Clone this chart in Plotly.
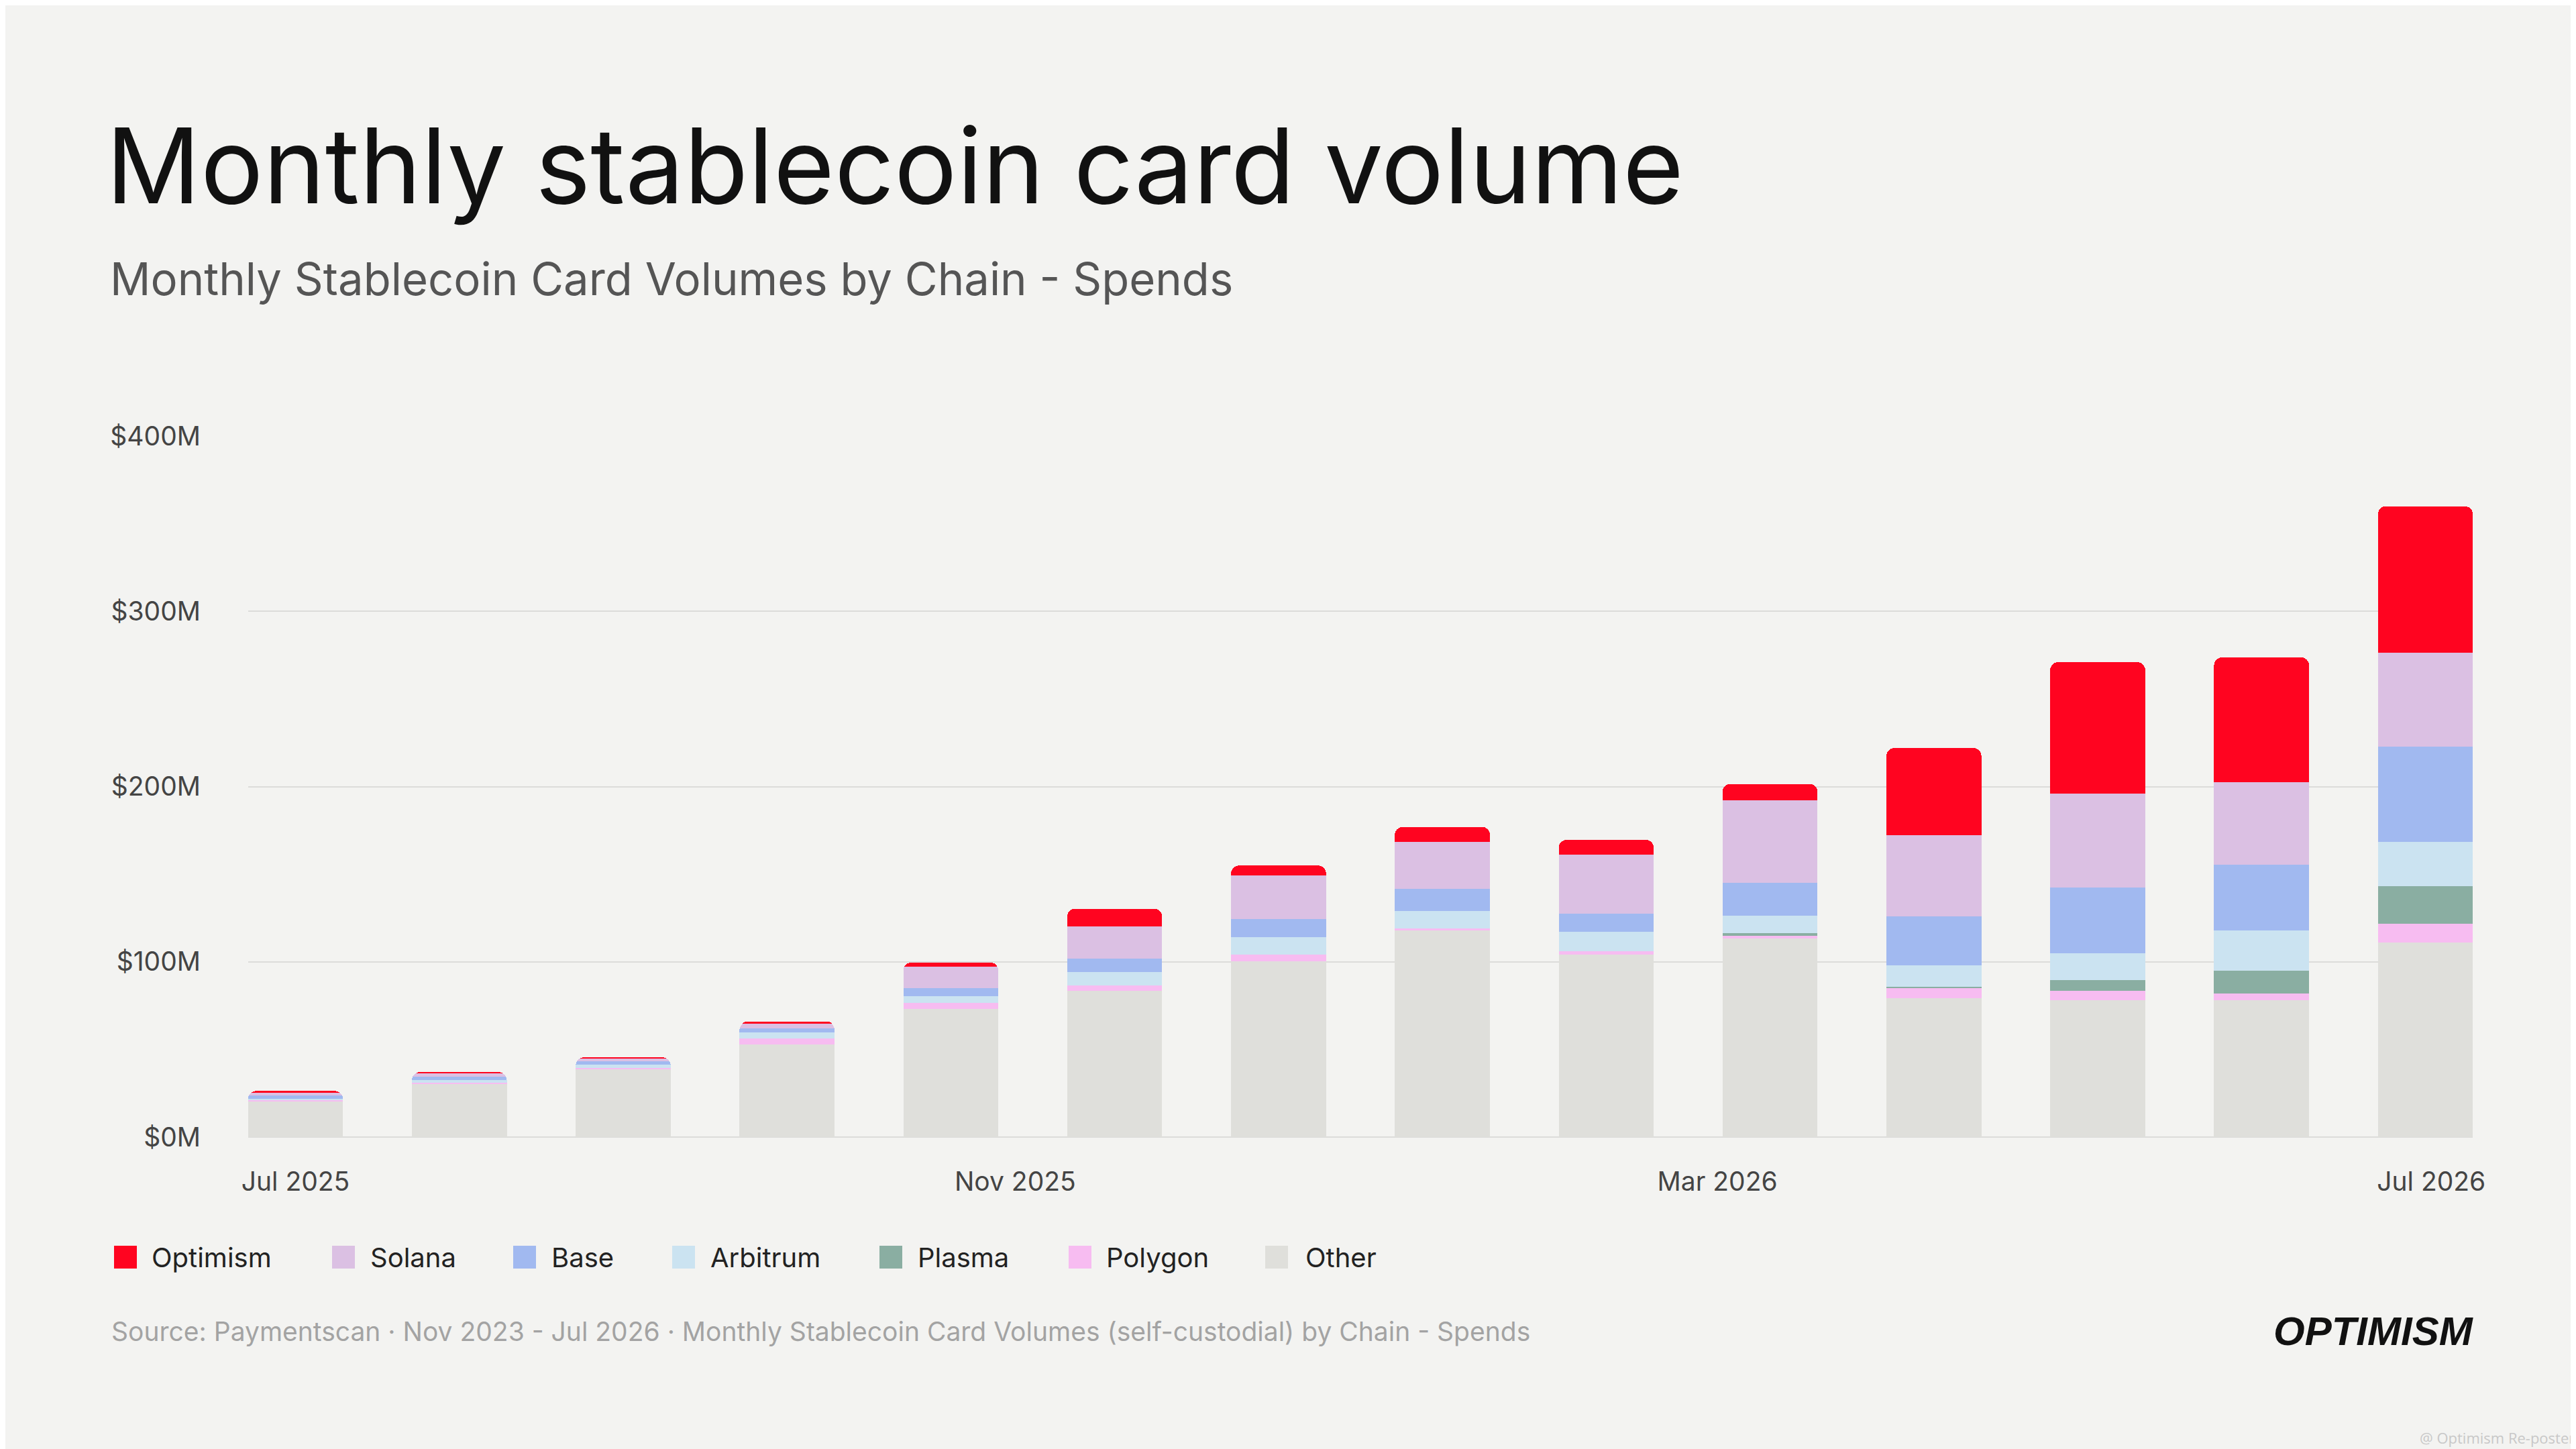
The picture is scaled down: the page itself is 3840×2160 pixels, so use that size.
import plotly.graph_objects as go

dates = ["2025-07-01", "2025-07-29", "2025-08-26", "2025-09-23", "2025-10-21", "2025-11-18", "2025-12-16",
         "2026-01-13", "2026-02-10", "2026-03-10", "2026-04-07", "2026-05-05", "2026-06-02", "2026-06-30"]
other    = [20.1, 30.2, 38.5, 53.0, 73.0, 83.6, 100.3, 118.0, 104.0, 113.4, 79.1, 78.2, 78.2, 111.0]
polygon  = [0.8, 0.8, 0.9, 3.1, 3.7, 3.0, 3.7, 1.0, 2.0, 1.5, 6.0, 5.4, 3.8, 10.7]
plasma   = [0, 0, 0, 0, 0, 0, 0, 0, 0, 1.5, 0.8, 6.1, 13.0, 21.6]
arbitrum = [0.8, 1.5, 2.1, 3.8, 3.8, 7.7, 10.0, 10.0, 11.0, 10.0, 12.2, 15.3, 23.0, 25.3]
base     = [2.2, 2.1, 1.6, 2.3, 4.6, 7.6, 10.3, 12.5, 10.5, 18.6, 27.8, 37.5, 37.6, 54.3]
solana   = [1.5, 1.6, 1.5, 2.3, 12.2, 18.4, 25.0, 27.0, 33.5, 47.0, 46.5, 53.5, 46.8, 53.5]
optimism = [0.9, 0.9, 0.9, 1.5, 2.3, 10.0, 5.6, 8.5, 8.6, 9.5, 49.6, 75.0, 71.3, 83.5]

series = [("Other", other, "#dfdfdb"), ("Polygon", polygon, "#f7bcf1"), ("Plasma", plasma, "#8aaea2"),
          ("Arbitrum", arbitrum, "#cbe3f1"), ("Base", base, "#a1b9f0"), ("Solana", solana, "#dbc0e3"),
          ("Optimism", optimism, "#ff0420")]

FONT = "Inter"
L, R, T, B = 362, 162, 642, 473
PW, PH = 3840 - L - R, 2160 - T - B

def px(x):
    return (x - L) / PW

def py(y):
    return (2160 - B - y) / PH

fig = go.Figure()
for name, vals, col in series:
    fig.add_trace(go.Bar(x=dates, y=vals, name=name, marker=dict(color=col, line=dict(width=0)),
                         hoverinfo="skip", showlegend=False))

fig.update_layout(
    width=3840, height=2160, paper_bgcolor="#f3f3f1", plot_bgcolor="#f3f3f1",
    barmode="stack", bargap=0.42, barcornerradius=12, showlegend=False,
    margin=dict(l=L, r=R, t=T, b=B, autoexpand=False),
    font=dict(family=FONT, color="#333"),
    xaxis=dict(type="date", tickformat="%b %Y", tick0="2025-07-01", dtick="M4",
               range=["2025-06-22 22:00", "2026-07-08 02:00"],
               showgrid=False, zeroline=False, showline=False, ticks="",
               tickfont=dict(size=39, color="#444"), ticklabelstandoff=40),
    yaxis=dict(range=[0, 400], tickvals=[0, 100, 200, 300, 400],
               ticktext=["$0M", "$100M", "$200M", "$300M", "$400M"],
               gridcolor="#dcdcda", gridwidth=2, zeroline=True, zerolinecolor="#dcdcda", zerolinewidth=2,
               tickfont=dict(size=39, color="#444"), ticklabelstandoff=70),
)

# legend drawn manually (larger swatches than plotly's legend allows)
legend_pos = [(162, 220), (487, 546), (757, 816), (994, 1053), (1303, 1362), (1585, 1643), (1878, 1940)]
for (name, vals, col), (sx, tx) in zip(reversed(series), legend_pos):
    fig.add_shape(type="rect", xref="paper", yref="paper", x0=px(sx), x1=px(sx + 34),
                  y0=py(1866 + 17), y1=py(1866 - 17), fillcolor=col, line=dict(width=0))
    fig.add_annotation(text=name, xref="paper", yref="paper", x=px(tx), y=py(1866), xanchor="left",
                       yanchor="middle", showarrow=False, xshift=-4, font=dict(size=40, color="#222"))

fig.add_annotation(text="Monthly stablecoin card volume", xref="paper", yref="paper", x=px(162), y=py(238),
                   xanchor="left", yanchor="middle", xshift=-14, showarrow=False,
                   font=dict(size=156, color="#111", family=FONT))
fig.add_annotation(text="Monthly Stablecoin Card Volumes by Chain - Spends", xref="paper", yref="paper",
                   x=px(162), y=py(407), xanchor="left", yanchor="middle", xshift=-8, showarrow=False,
                   font=dict(size=67, color="#555", family=FONT))
fig.add_annotation(text="Source: Paymentscan · Nov 2023 - Jul 2026 · Monthly Stablecoin Card Volumes (self-custodial) by Chain - Spends",
                   xref="paper", yref="paper", x=px(162), y=py(1976), xanchor="left", yanchor="middle", xshift=-6,
                   showarrow=False, font=dict(size=39, color="#a3a3a3", family=FONT))
fig.add_annotation(text="<b><i>OPTIMISM</i></b>", xref="paper", yref="paper", x=1.0, y=py(1976), xanchor="right",
                   yanchor="middle", showarrow=False, xshift=4,
                   font=dict(size=60, color="#111", family="Liberation Sans"))
fig.add_annotation(text="@ Optimism Re-poster", xref="paper", yref="paper", x=px(3832), y=py(2135), xanchor="right",
                   yanchor="middle", showarrow=False,
                   font=dict(size=22, color="#c8c8c8", family="Open Sans"))

fig.write_html("out.html")
